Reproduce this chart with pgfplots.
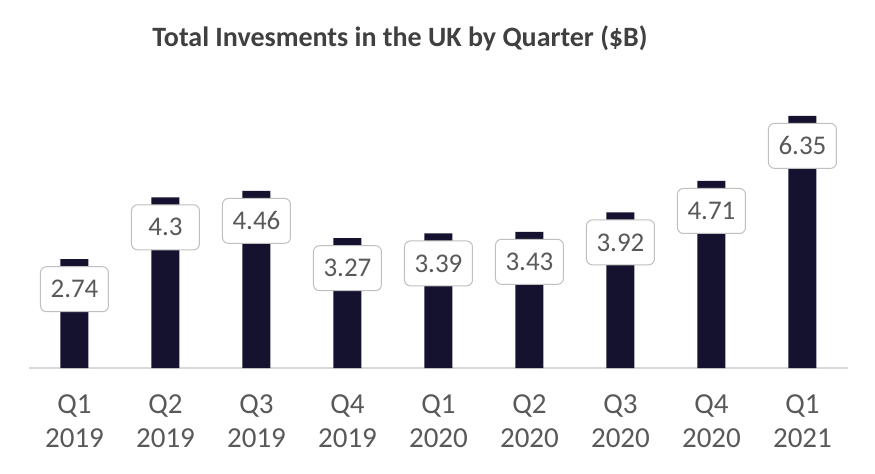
\documentclass[border=0pt]{standalone}
\usepackage{pgfplots}
\pgfplotsset{compat=1.18}
\usepackage{fontspec}
\setmainfont{Carlito}
\definecolor{barnavy}{HTML}{15122F}
\definecolor{txtgray}{HTML}{595959}
\definecolor{axgray}{HTML}{D9D9D9}
\definecolor{boxgray}{HTML}{BFBFBF}
\definecolor{titlegray}{HTML}{404040}
\begin{document}
\begin{tikzpicture}
\useasboundingbox (0,0) rectangle (437.5pt,236.5pt);
\node[font=\fontsize{14}{17}\selectfont\bfseries, text=titlegray] at (200pt,217.5pt) {Total Invesments in the UK by Quarter (\$B)};
\begin{axis}[
    at={(14.5pt,52.5pt)}, anchor=south west,
    scale only axis,
    width=409.5pt, height=135pt,
    xmin=-0.5, xmax=8.5,
    ymin=0, ymax=6.8,
    axis y line=none,
    axis x line*=bottom,
    x axis line style={draw=axgray, line width=0.6pt, -},
    xtick={0,...,8},
    xticklabels={Q1\\2019,Q2\\2019,Q3\\2019,Q4\\2019,Q1\\2020,Q2\\2020,Q3\\2020,Q4\\2020,Q1\\2021},
    xticklabel style={align=center, text=txtgray, font=\fontsize{14.5}{17}\selectfont, yshift=-10pt},
    major tick length=0pt,
    point meta=explicit symbolic,
    nodes near coords,
    every node near coord/.append style={
        anchor=center, yshift=-15pt,
        draw=boxgray, line width=0.5pt, fill=white, rounded corners=3pt,
        minimum width=34pt, minimum height=22.5pt, inner sep=1pt,
        text=txtgray, font=\fontsize{13.5}{16}\selectfont},
]
\addplot[ybar, bar width=14pt, fill=barnavy, draw=none]
    coordinates {
    (0,2.74) [2.74]
    (1,4.30) [4.3]
    (2,4.46) [4.46]
    (3,3.27) [3.27]
    (4,3.39) [3.39]
    (5,3.43) [3.43]
    (6,3.92) [3.92]
    (7,4.71) [4.71]
    (8,6.35) [6.35]
    };
\end{axis}
\end{tikzpicture}
\end{document}
